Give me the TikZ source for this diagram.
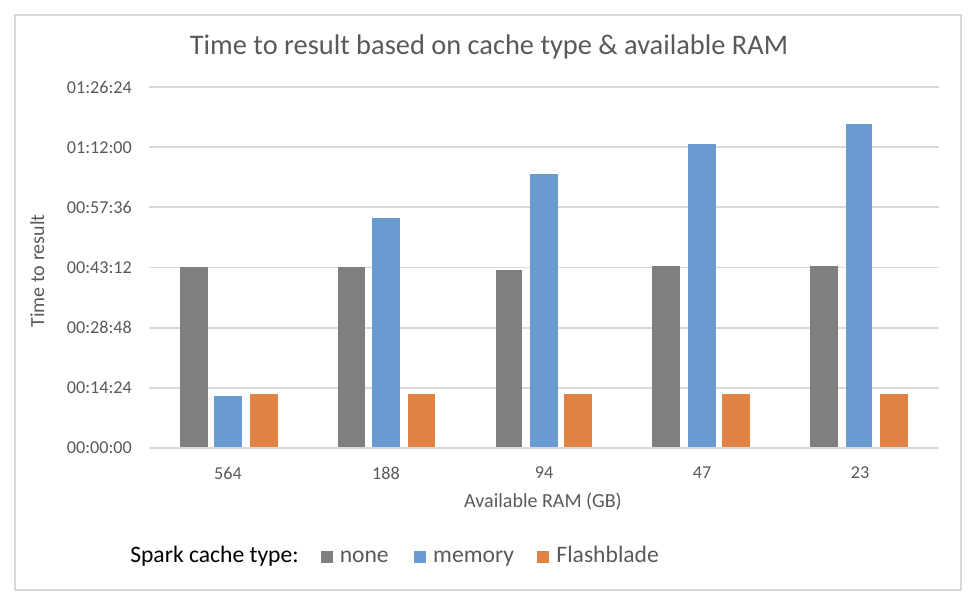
\documentclass[tikz,border=0pt]{standalone}
\usepackage{fontspec}
\setmainfont{Carlito}
\usetikzlibrary{positioning}
\definecolor{nonegray}{RGB}{127,127,127}
\definecolor{memblue}{RGB}{106,155,208}
\definecolor{flashorange}{RGB}{224,130,68}
\definecolor{gridgray}{RGB}{217,217,217}
\definecolor{labelgray}{RGB}{89,89,89}

\begin{document}
\begin{tikzpicture}[x=0.75pt,y={(0pt,-0.75pt)},
    gridline/.style={draw=gridgray,line width=1.3pt},
    ticklabel/.style={anchor=east,inner sep=0pt,text=labelgray,font=\fontsize{13.6}{16}\selectfont},
    catlabel/.style={inner sep=0pt,text=labelgray,font=\fontsize{13.6}{16}\selectfont},
    legkey/.style={inner sep=0pt,minimum size=9pt},
    legtext/.style={inner sep=0pt,text height=8.2pt,text depth=0pt,text=labelgray,font=\fontsize{17.7}{21}\selectfont}]
            \useasboundingbox (0,0) rectangle (980,604);
            % Frame
            \draw[draw=gridgray,line width=1.2pt] (15,15) rectangle (961,590);
            \node[anchor=base,text=labelgray,font=\fontsize{21.3}{25}\selectfont] (title) at (489,54) {Time to result based on cache type \& available RAM};
            % Grid and ticks
            \draw[gridline] (149,448) -- (939,448);
            \draw[gridline] (149,387.8) -- (939,387.8);
            \draw[gridline] (149,327.7) -- (939,327.7);
            \draw[gridline] (149,267.5) -- (939,267.5);
            \draw[gridline] (149,207.3) -- (939,207.3);
            \draw[gridline] (149,147.2) -- (939,147.2);
            \draw[gridline] (149,87) -- (939,87);
            \node[ticklabel] (t0) at (132,448) {00:00:00};
            \node[ticklabel] (t1) at (132,387.8) {00:14:24};
            \node[ticklabel] (t2) at (132,327.7) {00:28:48};
            \node[ticklabel] (t3) at (132,267.5) {00:43:12};
            \node[ticklabel] (t4) at (132,207.3) {00:57:36};
            \node[ticklabel] (t5) at (132,147.2) {01:12:00};
            \node[ticklabel] (t6) at (132,87) {01:26:24};
            % Bars
            \fill[nonegray] (180,447) rectangle (208,266.5);
            \fill[memblue] (214,447) rectangle (242,396);
            \fill[flashorange] (250,447) rectangle (278,393.7);
            \fill[nonegray] (338,447) rectangle (365,266.5);
            \fill[memblue] (372,447) rectangle (400,218);
            \fill[flashorange] (408,447) rectangle (435,394);
            \fill[nonegray] (496,447) rectangle (522,270);
            \fill[memblue] (530,447) rectangle (558,174);
            \fill[flashorange] (564,447) rectangle (592,394);
            \fill[nonegray] (652,447) rectangle (680,266);
            \fill[memblue] (688,447) rectangle (716,144);
            \fill[flashorange] (722,447) rectangle (750,394);
            \fill[nonegray] (810,447) rectangle (838,266);
            \fill[memblue] (846,447) rectangle (872,124);
            \fill[flashorange] (880,447) rectangle (908,394);
            % Axis labels
            \node[catlabel] (c564) at (228,473) {564};
            \node[catlabel] (c188) at (386,473) {188};
            \node[catlabel] (c94) at (544,473) {94};
            \node[catlabel] (c47) at (702,473) {47};
            \node[catlabel] (c23) at (860,473) {23};
            \node[anchor=base,text=labelgray,font=\fontsize{15}{18}\selectfont] (xtitle) at (543,507.5) {Available RAM (GB)};
            \node[anchor=base,rotate=90,text=labelgray,font=\fontsize{15}{18}\selectfont] (ytitle) at (44,271) {Time to result};
            % Legend
            \node[legtext,text=black,anchor=west] (legtitle) at (130,557) {Spark cache type:};
            \node[legkey,fill=nonegray,right=16pt of legtitle] (keynone) {};
            \node[legtext,right=5pt of keynone] (txtnone) {none};
            \node[legkey,fill=memblue,right=18.5pt of txtnone] (keymem) {};
            \node[legtext,right=5pt of keymem] (txtmem) {memory};
            \node[legkey,fill=flashorange,right=17pt of txtmem] (keyflash) {};
            \node[legtext,right=5pt of keyflash] (txtflash) {Flashblade};
        \end{tikzpicture}
\end{document}
